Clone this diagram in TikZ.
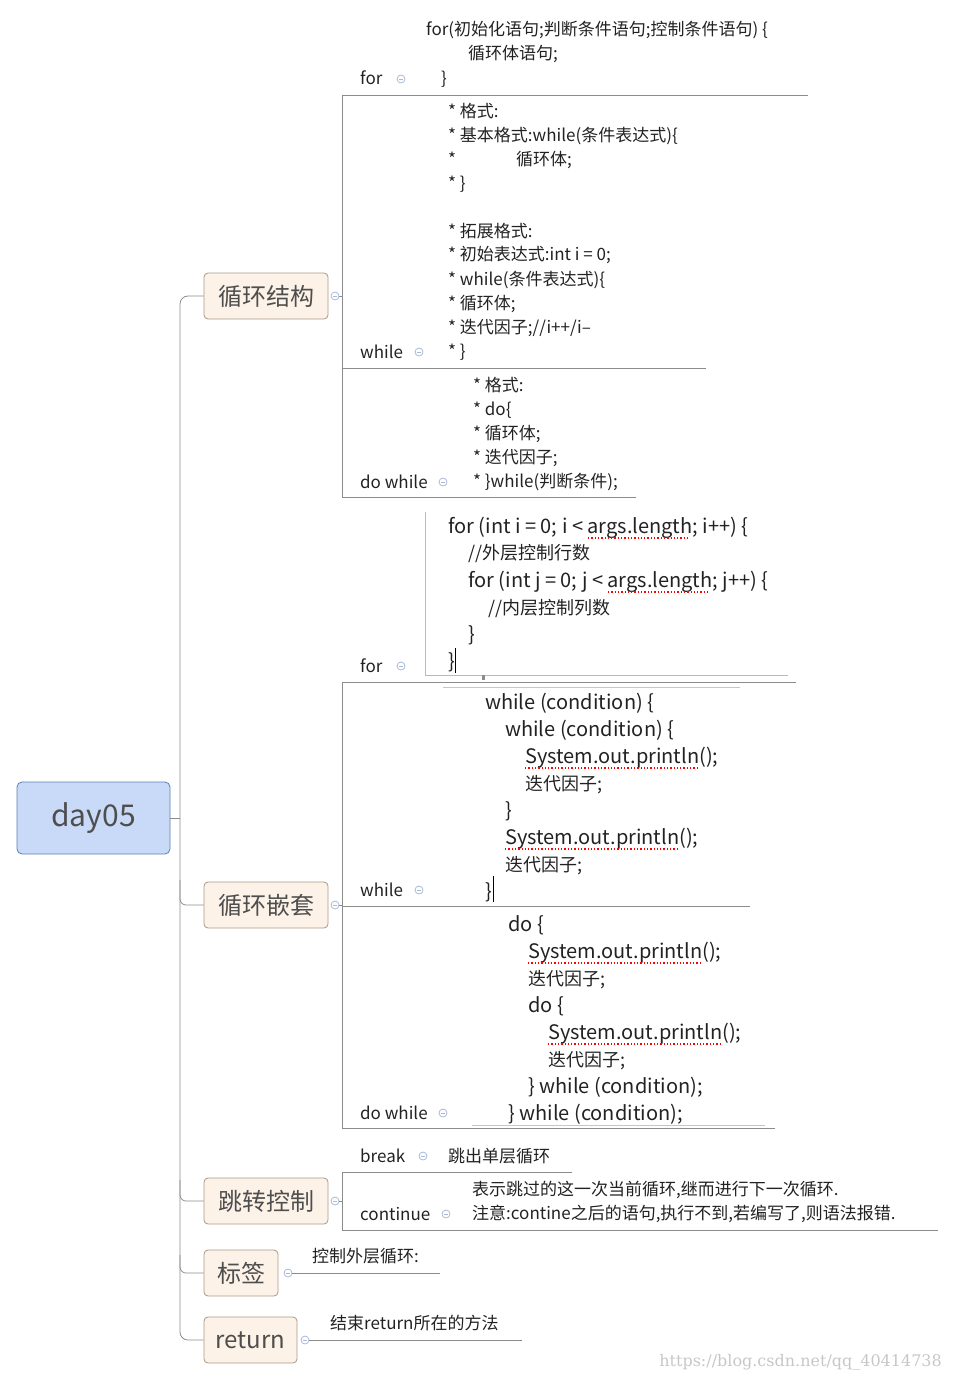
\documentclass[tikz,border=0pt]{standalone}
\usepackage{fontspec}
\setmainfont{Noto Sans CJK SC}
\newfontfamily\wmfont{DejaVu Serif}
\definecolor{ln}{HTML}{8C8C8C}
\definecolor{txt}{HTML}{222222}
\definecolor{rootfill}{HTML}{C9DAF8}
\definecolor{rootdraw}{HTML}{5B7FB5}
\definecolor{brfill}{HTML}{FDF2E8}
\definecolor{brdraw}{HTML}{A89888}
\definecolor{cir}{HTML}{A9B9DA}
\newcommand\tx[4][17]{\node[anchor=base west,inner sep=0,text=txt,font=\fontsize{#1}{#1}\selectfont] at (#2,#3) {#4};}
\newcommand\cl[2]{\draw[cir,fill=white,line width=0.8] (#1,#2) circle (4);\draw[cir,line width=0.8] (#1-2,#2) -- (#1+2,#2);}
\newcommand\rdot[3]{\draw[red,dotted,line width=1.3] (#1,#3) -- (#2,#3);}
\begin{document}
\begin{tikzpicture}[x=1pt,y=-1pt,
  br/.style={draw=brdraw,fill=brfill,rounded corners=4,line width=0.8,text=txt!80,font=\fontsize{24}{24}\selectfont,inner sep=0},
  conn/.style={draw=ln,line width=0.8}]
\useasboundingbox (0,0) rectangle (954,1380);
% root
\node[draw=rootdraw,fill=rootfill,rounded corners=5,line width=0.8,minimum width=153,minimum height=72,inner sep=0,font=\fontsize{30}{30}\selectfont,text=txt!80] (root) at (93.5,818) {day05};
% branches
\node[br,minimum width=124,minimum height=46] (b1) at (266,296) {循环结构};
\node[br,minimum width=124,minimum height=46] (b2) at (266,905) {循环嵌套};
\node[br,minimum width=124,minimum height=46] (b3) at (266,1201) {跳转控制};
\node[br,minimum width=74,minimum height=46] (b4) at (241,1273) {标签};
\node[br,minimum width=93,minimum height=46] (b5) at (250.5,1340) {return};
% trunk
\draw[conn] (root.east) -- (180,818);
\draw[conn,rounded corners=8] (b1.west) -- (180,296) -- (180,1340) -- (b5.west);
\draw[conn,rounded corners=6] (180,880) -- (180,905) -- (b2.west);
\draw[conn,rounded corners=6] (180,1180) -- (180,1201) -- (b3.west);
\draw[conn,rounded corners=6] (180,1255) -- (180,1273) -- (b4.west);
% --- 循环结构 sub-tree
\draw[conn] (339,296) -- (342,296);
\draw[conn] (808,95) -- (342,95) -- (342,497) -- (636,497);
\draw[conn] (342,368) -- (706,368);
\cl{335}{296}
\tx{360}{85}{for}\cl{401}{79}
\tx{426}{36}{for(初始化语句;判断条件语句;控制条件语句) \{}
\tx{468}{60}{循环体语句;}
\tx{441}{85}{\}}
\tx{360}{358}{while}\cl{419}{352}
\foreach \yy/\t in {118/{* 格式:},142/{* 基本格式:while(条件表达式)\{},166/{*},190/{* \}},237/{* 拓展格式:},261/{* 初始表达式:int i = 0;},285/{* while(条件表达式)\{},309/{* 循环体;},333/{* 迭代因子;//i++/i--},357/{* \}}}
  {\tx{448}{\yy}{\t}}
\tx{516}{166}{循环体;}
\tx{360}{488}{do while}\cl{443}{482}
\foreach \yy/\t in {391/{* 格式:},415/{* do\{},439/{* 循环体;},463/{* 迭代因子;},487/{* \}while(判断条件);}}
  {\tx{473}{\yy}{\t}}
% --- 循环嵌套 sub-tree
\cl{335}{905}
\draw[conn] (339,905) -- (342,905);
\draw[conn] (796,682) -- (342,682) -- (342,1128) -- (775,1128);
\draw[conn] (342,906) -- (750,906);
\draw[ln!60,line width=0.6] (425,512) -- (425,675) -- (788,675);
\draw[ln!50,line width=0.6] (443,687) -- (740,687);
\draw[ln!50,line width=0.6] (472,1125) -- (765,1125);
\fill[ln] (482,675) rectangle (485,680);
\tx{360}{672}{for}\cl{401}{666}
\tx[20]{448}{533}{for (int i = 0; i < args.length; i++) \{}
\tx[18]{468}{559}{//外层控制行数}
\tx[20]{468}{587}{for (int j = 0; j < args.length; j++) \{}
\tx[18]{488}{614}{//内层控制列数}
\tx[20]{468}{641}{\}}
\tx[20]{448}{668}{\}}
\draw[black,line width=0.8] (455,648) -- (455,673);
\rdot{588}{690}{538}\rdot{608}{710}{592}
\tx{360}{896}{while}\cl{419}{890}
\tx[20]{485}{709}{while (condition) \{}
\tx[20]{505}{736}{while (condition) \{}
\tx[20]{525}{763}{System.out.println();}\rdot{525}{697}{768}
\tx[18]{525}{790}{迭代因子;}
\tx[20]{505}{817}{\}}
\tx[20]{505}{844}{System.out.println();}\rdot{505}{677}{849}
\tx[18]{505}{871}{迭代因子;}
\tx[20]{485}{898}{\}}
\draw[black,line width=0.8] (493,876) -- (493,902);
\tx{360}{1119}{do while}\cl{443}{1113}
\tx[20]{508}{931}{do \{}
\tx[20]{528}{958}{System.out.println();}\rdot{528}{700}{963}
\tx[18]{528}{985}{迭代因子;}
\tx[20]{528}{1012}{do \{}
\tx[20]{548}{1039}{System.out.println();}\rdot{548}{720}{1044}
\tx[18]{548}{1066}{迭代因子;}
\tx[20]{528}{1093}{\} while (condition);}
\tx[20]{508}{1120}{\} while (condition);}
% --- 跳转控制
\cl{335}{1201}
\draw[conn] (339,1201) -- (342,1201);
\draw[conn] (572,1172) -- (342,1172) -- (342,1230) -- (938,1230);
\tx{360}{1162}{break}\cl{423}{1156}
\tx{448}{1162}{跳出单层循环}
\tx{360}{1220}{continue}\cl{446}{1214}
\tx{472}{1195}{表示跳过的这一次当前循环,继而进行下一次循环.}
\tx{472}{1219}{注意:contine之后的语句,执行不到,若编写了,则语法报错.}
% --- 标签
\cl{288}{1273}
\draw[conn] (292,1273) -- (440,1273);
\tx{312}{1262}{控制外层循环:}
% --- return
\cl{305}{1340}
\draw[conn] (309,1340) -- (522,1340);
\tx{330}{1329}{结束return所在的方法}
% watermark
\node[anchor=base east,inner sep=0,text=black!22,font=\wmfont\fontsize{16}{16}\selectfont] (wm) at (942,1366) {https://blog.csdn.net/qq\_40414738};
\end{tikzpicture}
\end{document}
